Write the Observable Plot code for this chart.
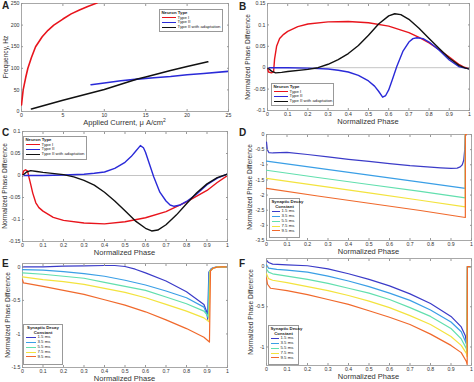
<!DOCTYPE html>
<html><head><meta charset="utf-8">
<script src="https://cdn.jsdelivr.net/npm/d3@7"></script>
<script src="https://cdn.jsdelivr.net/npm/@observablehq/plot@0.6"></script>
<style>
body{margin:0;background:#fff;}
#fig{position:relative;width:474px;height:382px;overflow:hidden;font-family:"Liberation Sans",Arial,sans-serif;color:#222;}
#fig svg{position:absolute;overflow:visible;}
.letter{position:absolute;font-weight:bold;font-size:10px;line-height:10px;}
.xl{position:absolute;font-size:7.5px;line-height:7px;transform:translateX(-50%);white-space:nowrap;color:#333;}
.yl{position:absolute;font-size:6.6px;line-height:6.6px;white-space:nowrap;transform:translate(-50%,-50%) rotate(-90deg);color:#333;}
.leg{position:absolute;background:#fff;border:1px solid #999;box-sizing:border-box;font-size:4.3px;line-height:4.8px;padding:0.8px 1.5px;overflow:visible;}
.leg .t{font-weight:bold;white-space:nowrap;height:4.8px;}
.leg .tc{font-weight:bold;text-align:center;white-space:nowrap;height:4.8px;}
.leg .r{display:flex;align-items:center;white-space:nowrap;height:4.8px;}
.leg .s{display:inline-block;height:0;margin-right:2px;flex:none;}
</style>
</head><body><div id="fig"></div>
<script>
// ---------- Panel A: frequency vs applied current ----------
const freqTypeI = [[0,15],[0.2,50],[0.5,78],[0.77,100],[1.2,125],[1.7,150],[2.5,173],[3.2,188],[3.9,200],[5,214],[6,226],[7,235],[8,243],[9.1,251]];
const freqTypeII = [[8.4,62],[10,66],[12,71],[14,75],[16,78],[18,81],[20,85],[22,88],[25,93]];
const freqAdapt = [[1.2,6],[5,26],[10,51],[14,75],[15,80],[18,95],[20,104],[22.5,115]];

// ---------- Panel B: phase difference ----------
const phaseB_typeI = [[0,-0.002],[0.005,-0.01],[0.02,-0.012],[0.03,-0.01],[0.035,0.02],[0.045,0.05],[0.06,0.068],[0.08,0.078],[0.1,0.085],[0.15,0.096],[0.2,0.102],[0.3,0.107],[0.4,0.108],[0.5,0.105],[0.6,0.097],[0.7,0.082],[0.75,0.071],[0.8,0.058],[0.85,0.042],[0.9,0.025],[0.95,0.007],[0.97,0.002],[1,-0.003]];
const phaseB_typeII = [[0,0],[0.1,0],[0.2,-0.001],[0.3,-0.003],[0.35,-0.006],[0.4,-0.01],[0.45,-0.018],[0.5,-0.031],[0.53,-0.043],[0.55,-0.055],[0.57,-0.069],[0.585,-0.065],[0.6,-0.052],[0.62,-0.025],[0.64,0.003],[0.67,0.038],[0.7,0.06],[0.72,0.068],[0.74,0.07],[0.77,0.068],[0.8,0.06],[0.85,0.041],[0.9,0.018],[0.95,0.002],[1,-0.003]];
const phaseB_adapt = [[0,0],[0.02,-0.008],[0.04,-0.012],[0.07,-0.011],[0.1,-0.009],[0.2,-0.004],[0.25,0],[0.3,0.008],[0.35,0.019],[0.4,0.033],[0.45,0.052],[0.5,0.076],[0.55,0.102],[0.6,0.121],[0.63,0.126],[0.66,0.124],[0.7,0.113],[0.75,0.092],[0.8,0.068],[0.85,0.045],[0.9,0.022],[0.95,0.005],[0.98,-0.001],[1,-0.003]];

// ---------- Panel C ----------
const phaseC_typeI = [[0,0],[0.005,0.01],[0.015,0.013],[0.025,0.01],[0.032,-0.005],[0.04,-0.02],[0.05,-0.04],[0.065,-0.062],[0.08,-0.073],[0.1,-0.081],[0.15,-0.095],[0.2,-0.102],[0.3,-0.108],[0.4,-0.11],[0.5,-0.105],[0.6,-0.096],[0.7,-0.082],[0.8,-0.06],[0.9,-0.034],[0.95,-0.016],[1,0]];
const phaseC_typeII = [[0,0],[0.1,0],[0.2,0.001],[0.3,0.003],[0.35,0.005],[0.4,0.008],[0.45,0.016],[0.5,0.03],[0.53,0.043],[0.55,0.054],[0.575,0.068],[0.59,0.063],[0.6,0.053],[0.62,0.025],[0.64,-0.003],[0.67,-0.038],[0.7,-0.058],[0.72,-0.067],[0.74,-0.07],[0.77,-0.067],[0.8,-0.059],[0.85,-0.042],[0.9,-0.021],[0.95,-0.006],[1,0.003]];
const phaseC_adapt = [[0,0],[0.02,0.008],[0.04,0.011],[0.07,0.009],[0.1,0.007],[0.2,0.002],[0.25,-0.003],[0.3,-0.011],[0.35,-0.022],[0.4,-0.038],[0.45,-0.058],[0.5,-0.08],[0.55,-0.103],[0.6,-0.12],[0.63,-0.126],[0.66,-0.124],[0.7,-0.112],[0.75,-0.09],[0.8,-0.064],[0.85,-0.039],[0.9,-0.019],[0.95,-0.005],[1,0.003]];

// ---------- Panel D ----------
const decayD_15 = [[0,-0.25],[0.004,-0.5],[0.012,-0.6],[0.03,-0.61],[0.1,-0.59],[0.2,-0.66],[0.3,-0.74],[0.4,-0.82],[0.5,-0.89],[0.6,-0.96],[0.7,-1.03],[0.8,-1.08],[0.85,-1.1],[0.9,-1.12],[0.93,-1.11],[0.945,-1.07],[0.955,-1.0],[0.962,-0.85],[0.967,-0.5],[0.97,-0.05],[0.975,0]];
const decayD_35 = [[0,-0.88],[0.25,-1.11],[0.5,-1.34],[0.75,-1.57],[0.97,-1.78],[0.97,0],[0.975,0]];
const decayD_55 = [[0,-1.18],[0.25,-1.42],[0.5,-1.65],[0.75,-1.88],[0.97,-2.09],[0.97,0],[0.975,0]];
const decayD_75 = [[0,-1.45],[0.25,-1.69],[0.5,-1.93],[0.75,-2.17],[0.97,-2.39],[0.97,0],[0.975,0]];
const decayD_95 = [[0,-1.78],[0.25,-2.03],[0.5,-2.27],[0.75,-2.51],[0.97,-2.74],[0.97,0],[0.975,0]];

// ---------- Panel E ----------
const decayE_15 = [[0,0],[0.1,0],[0.2,0.01],[0.3,0.015],[0.4,0.02],[0.45,0.02],[0.5,0.005],[0.55,-0.035],[0.6,-0.09],[0.7,-0.21],[0.8,-0.37],[0.885,-0.56],[0.9,-0.68],[0.903,-0.78],[0.906,-0.45],[0.909,-0.08],[0.92,-0.03],[0.935,-0.01],[0.95,0],[1,0]];
const decayE_35 = [[0,-0.04],[0.1,-0.05],[0.2,-0.07],[0.3,-0.1],[0.4,-0.14],[0.5,-0.2],[0.6,-0.27],[0.7,-0.36],[0.8,-0.46],[0.885,-0.6],[0.905,-0.76],[0.908,-0.4],[0.911,-0.07],[0.925,-0.02],[0.95,0],[1,0]];
const decayE_55 = [[0,-0.09],[0.1,-0.11],[0.2,-0.14],[0.3,-0.17],[0.4,-0.23],[0.5,-0.29],[0.6,-0.35],[0.7,-0.45],[0.8,-0.55],[0.885,-0.66],[0.907,-0.74],[0.91,-0.4],[0.913,-0.07],[0.93,-0.02],[0.95,0],[1,0]];
const decayE_75 = [[0,-0.15],[0.1,-0.19],[0.2,-0.22],[0.3,-0.26],[0.4,-0.32],[0.5,-0.38],[0.6,-0.46],[0.7,-0.56],[0.8,-0.66],[0.885,-0.76],[0.91,-0.82],[0.913,-0.4],[0.915,-0.06],[0.93,-0.02],[0.955,0],[1,0]];
const decayE_95 = [[0,-0.19],[0.005,-0.24],[0.1,-0.29],[0.2,-0.35],[0.3,-0.41],[0.4,-0.49],[0.5,-0.57],[0.6,-0.67],[0.7,-0.79],[0.8,-0.92],[0.885,-1.05],[0.912,-1.12],[0.915,-0.5],[0.917,-0.06],[0.93,-0.02],[0.95,-0.005],[0.97,0],[1,0]];

// ---------- Panel F ----------
const decayF_15 = [[0,0.08],[0.01,0.05],[0.03,0.03],[0.1,0.02],[0.2,0.01],[0.3,-0.03],[0.4,-0.09],[0.5,-0.16],[0.6,-0.24],[0.7,-0.34],[0.8,-0.46],[0.9,-0.62],[0.95,-0.75],[0.97,-0.86],[0.978,-1.0],[0.98,0],[0.995,0]];
const decayF_35 = [[0,0.02],[0.01,-0.02],[0.05,-0.035],[0.1,-0.045],[0.2,-0.07],[0.3,-0.12],[0.4,-0.18],[0.5,-0.25],[0.6,-0.33],[0.7,-0.42],[0.8,-0.54],[0.9,-0.69],[0.95,-0.81],[0.975,-0.96],[0.978,-1.05],[0.98,0],[0.995,0]];
const decayF_55 = [[0,-0.03],[0.01,-0.07],[0.03,-0.09],[0.1,-0.12],[0.2,-0.16],[0.3,-0.21],[0.4,-0.27],[0.5,-0.33],[0.6,-0.41],[0.7,-0.51],[0.8,-0.62],[0.9,-0.77],[0.95,-0.9],[0.975,-1.02],[0.978,-1.08],[0.98,0],[0.995,0]];
const decayF_75 = [[0,-0.09],[0.01,-0.15],[0.03,-0.17],[0.1,-0.2],[0.2,-0.25],[0.3,-0.3],[0.4,-0.36],[0.5,-0.43],[0.6,-0.51],[0.7,-0.61],[0.8,-0.72],[0.9,-0.87],[0.95,-0.98],[0.975,-1.08],[0.978,-1.12],[0.98,0],[0.995,0]];
const decayF_95 = [[0,-0.14],[0.005,-0.22],[0.02,-0.27],[0.1,-0.3],[0.2,-0.35],[0.3,-0.41],[0.4,-0.47],[0.5,-0.55],[0.6,-0.63],[0.7,-0.72],[0.8,-0.84],[0.9,-0.98],[0.95,-1.07],[0.975,-1.18],[0.979,-1.22],[0.98,0],[0.995,0]];

// ---------- labels & ticks ----------
const neuronTypes = ["Type I","Type II","Type II with adaptation"];
const neuronColors = ["#e8141c","#2a2ad8","#111111"];
const decayLabels = ["1.5 ms","3.5 ms","5.5 ms","7.5 ms","9.5 ms"];
const decayColors = ["#3b3bc8","#3a9fe6","#62dfae","#f3e33e","#f0692c"];
const ticksA_x = [0,5,10,15,20,25];
const ticksA_y = [0,50,100,150,200,250];
const ticksPhase = [0,0.1,0.2,0.3,0.4,0.5,0.6,0.7,0.8,0.9,1];
const ticksB_y = [-0.1,-0.05,0,0.05,0.1,0.15];
const ticksC_y = [-0.15,-0.1,-0.05,0,0.05,0.1];
const ticksD_y = [-3.5,-3,-2.5,-2,-1.5,-1,-0.5,0];
const ticksE_y = [-1.5,-1,-0.5,0];
const ticksF_y = [-1,-0.5,0];

const fig = document.getElementById("fig");
const fmt = d => String(Math.round(d*1000)/1000);

function panel(c){
  const ml=24, mr=4, mt=4, mb=12;
  const marks = [Plot.frame({stroke:"#a8a8a8"})];
  if (c.zero) marks.push(Plot.ruleY([0],{stroke:"#c4c4c4",strokeWidth:1}));
  c.series.forEach((s,i)=>{
    marks.push(Plot.line(s, {x:d=>d[0], y:d=>d[1], stroke:c.colors[i], strokeWidth:c.sw, clip:true, curve:"linear"}));
  });
  marks.push(
    Plot.axisX(c.xt,{anchor:"bottom",tickSize:0,tickPadding:1.5,tickFormat:fmt,fontSize:5.2,fill:"#333",label:null}),
    Plot.axisX(c.xt,{anchor:"bottom",tickSize:-2,fill:"none",stroke:"#999",label:null}),
    Plot.axisX(c.xt,{anchor:"top",tickSize:-2,fill:"none",stroke:"#999",label:null}),
    Plot.axisY(c.yt,{anchor:"left",tickSize:0,tickPadding:2,tickFormat:fmt,fontSize:5.2,fill:"#333",label:null}),
    Plot.axisY(c.yt,{anchor:"left",tickSize:-2,fill:"none",stroke:"#999",label:null}),
    Plot.axisY(c.yt,{anchor:"right",tickSize:-2,fill:"none",stroke:"#999",label:null})
  );
  const svg = Plot.plot({
    width: c.R-c.L+ml+mr, height: c.B-c.T+mt+mb,
    marginLeft:ml, marginRight:mr, marginTop:mt, marginBottom:mb,
    x:{domain:c.xd}, y:{domain:c.yd},
    style:{fontFamily:"'Liberation Sans',Arial,sans-serif",background:"transparent",overflow:"visible"},
    marks
  });
  svg.style.left = (c.L-ml)+"px";
  svg.style.top = (c.T-mt)+"px";
  fig.appendChild(svg);
  const lt = document.createElement("div");
  lt.className="letter"; lt.textContent=c.letter;
  lt.style.left=c.letterPos[0]+"px"; lt.style.top=c.letterPos[1]+"px";
  fig.appendChild(lt);
  const xl = document.createElement("div");
  xl.className="xl"; xl.innerHTML=c.xlabel;
  xl.style.left=((c.L+c.R)/2)+"px"; xl.style.top=(c.B+8)+"px";
  fig.appendChild(xl);
  const yl = document.createElement("div");
  yl.className="yl"; yl.textContent=c.ylabel;
  yl.style.left=c.ylabelX+"px"; yl.style.top=((c.T+c.B)/2)+"px";
  fig.appendChild(yl);
}

function legend(box, titleLines, center, labels, colors, sample){
  const d = document.createElement("div");
  d.className="leg";
  d.style.left=box[0]+"px"; d.style.top=box[1]+"px";
  d.style.width=box[2]+"px"; d.style.height=box[3]+"px";
  titleLines.forEach(t=>{
    const e=document.createElement("div"); e.className=center?"tc":"t"; e.textContent=t; d.appendChild(e);
  });
  labels.forEach((l,i)=>{
    const r=document.createElement("div"); r.className="r";
    const s=document.createElement("span"); s.className="s";
    s.style.width=sample+"px"; s.style.borderTop="1.4px solid "+colors[i];
    r.appendChild(s); r.appendChild(document.createTextNode(l));
    d.appendChild(r);
  });
  fig.appendChild(d);
}

panel({letter:"A",letterPos:[2,1],L:21,R:228,T:3,B:111,xd:[0,25],yd:[0,250],xt:ticksA_x,yt:ticksA_y,
  series:[freqTypeI,freqTypeII,freqAdapt],colors:neuronColors,sw:1.6,
  xlabel:"Applied Current, μ A/cm<sup style='font-size:5px;line-height:0'>2</sup>",ylabel:"Frequency, Hz",ylabelX:6});
panel({letter:"B",letterPos:[239,2],L:267,R:469,T:3,B:110,xd:[0,1],yd:[-0.1,0.15],xt:ticksPhase,yt:ticksB_y,zero:true,
  series:[phaseB_typeI,phaseB_typeII,phaseB_adapt],colors:neuronColors,sw:1.4,
  xlabel:"Normalized Phase",ylabel:"Normalized Phase Difference",ylabelX:248});
panel({letter:"C",letterPos:[2,128],L:22,R:227,T:131,B:241,xd:[0,1],yd:[-0.15,0.1],xt:ticksPhase,yt:ticksC_y,zero:true,
  series:[phaseC_typeI,phaseC_typeII,phaseC_adapt],colors:neuronColors,sw:1.4,
  xlabel:"Normalized Phase",ylabel:"Normalized Phase Difference",ylabelX:4.5});
panel({letter:"D",letterPos:[239,128],L:266,R:471,T:134,B:240,xd:[0,1],yd:[-3.5,0],xt:ticksPhase,yt:ticksD_y,
  series:[decayD_15,decayD_35,decayD_55,decayD_75,decayD_95],colors:decayColors,sw:1.2,
  xlabel:"Normalized Phase",ylabel:"Normalized Phase Difference",ylabelX:250});
panel({letter:"E",letterPos:[2,259],L:22,R:227,T:263,B:367,xd:[0,1],yd:[-1.5,0.05],xt:ticksPhase,yt:ticksE_y,
  series:[decayE_15,decayE_35,decayE_55,decayE_75,decayE_95],colors:decayColors,sw:1.2,
  xlabel:"Normalized Phase",ylabel:"Normalized Phase Difference",ylabelX:8});
panel({letter:"F",letterPos:[239,259],L:266,R:471,T:258,B:365,xd:[0,1],yd:[-1.23,0.1],xt:ticksPhase,yt:ticksF_y,
  series:[decayF_15,decayF_35,decayF_55,decayF_75,decayF_95],colors:decayColors,sw:1.2,
  xlabel:"Normalized Phase",ylabel:"Normalized Phase Difference",ylabelX:251});

legend([159,9,64,23],["Neuron Type"],false,neuronTypes,neuronColors,14);
legend([271,83,63,23],["Neuron Type"],false,neuronTypes,neuronColors,14);
legend([23,136,64,24],["Neuron Type"],false,neuronTypes,neuronColors,14);
legend([269,198,31,40],["Synaptic Decay","Constant"],true,decayLabels,decayColors,8);
legend([23,324,40,41],["Synaptic Decay","Constant"],true,decayLabels,decayColors,10);
legend([268,325,31,40],["Synaptic Decay","Constant"],true,decayLabels,decayColors,8);
</script>
</body></html>
